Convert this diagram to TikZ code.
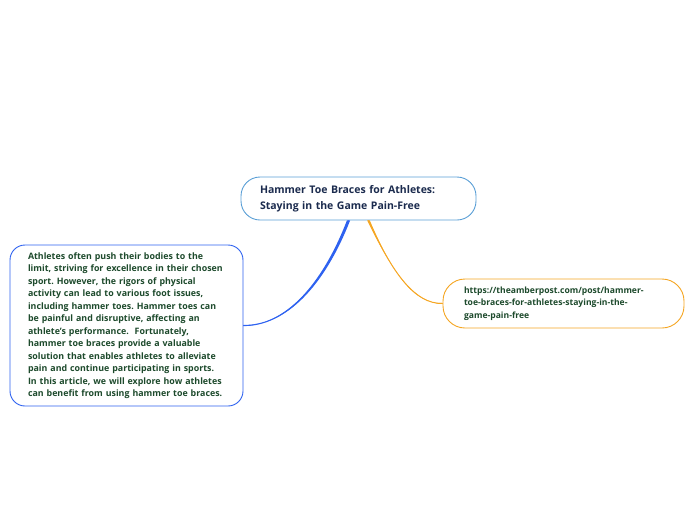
\documentclass[tikz,border=0pt]{standalone}
\usepackage{fontspec}
\setmainfont{Open Sans}
\frenchspacing
\definecolor{navy}{HTML}{1B2B4E}
\definecolor{dgreen}{HTML}{1D4A2C}
\definecolor{cblue}{HTML}{5A9FD6}
\definecolor{lblue}{HTML}{2E62F0}
\definecolor{orng}{HTML}{F5A623}
\begin{document}
\begin{tikzpicture}[x=1pt,y=-1pt,
  box/.style={draw,fill=white,line width=0.9pt,align=left,anchor=center,inner ysep=0pt},
  centraltext/.style={font=\fontsize{10.5}{15.5}\selectfont\bfseries,text=navy},
  lefttext/.style={font=\fontsize{8.85}{12.5}\selectfont\bfseries,text=dgreen},
  righttext/.style={font=\fontsize{8.6}{12.5}\selectfont\bfseries,text=dgreen}]
\useasboundingbox (0,0) rectangle (696,520);
\node[box,centraltext,draw=cblue,rounded corners=19pt,minimum width=235pt,minimum height=43pt,inner xsep=19pt,text width=197pt] (c) at (358.5,198.5)
  {Hammer Toe Braces for Athletes:\\Staying in the Game Pain-Free};
\node[box,lefttext,draw=lblue,rounded corners=15pt,minimum width=233pt,minimum height=161pt,inner xsep=18pt,text width=197pt] (l) at (126.5,325.5)
  {Athletes often push their bodies to the\\limit, striving for excellence in their chosen\\sport. However, the rigors of physical\\activity can lead to various foot issues,\\including hammer toes. Hammer toes can\\be painful and disruptive, affecting an\\athlete's performance.\ \ Fortunately,\\hammer toe braces provide a valuable\\solution that enables athletes to alleviate\\pain and continue participating in sports.\\In this article, we will explore how athletes\\can benefit from using hammer toe braces.};
\node[box,righttext,draw=orng,rounded corners=22pt,minimum width=241pt,minimum height=49pt,inner xsep=21pt,text width=199pt] (r) at (563.5,303.5)
  {https://theamberpost.com/post/hammer-\\toe-braces-for-athletes-staying-in-the-\\game-pain-free};
\coordinate (cb) at ([xshift=-10pt]c.south);
\coordinate (co) at ([xshift=10pt]c.south);
\draw[lblue,line width=1.1pt] (cb) .. controls (323,285.5) and (285.5,326) .. (l.east);
\fill[lblue] ([xshift=-1.6pt]cb) .. controls (322,285) and (285,325.4) .. ([yshift=-0.5pt]l.east)
  -- ([yshift=0.5pt]l.east) .. controls (286,326.6) and (324.5,286) .. ([xshift=1.6pt]cb) -- cycle;
\draw[orng,line width=1pt] (co) .. controls (392.2,272.7) and (414.5,304) .. (r.west);
\fill[orng] ([xshift=-1.3pt]co) .. controls (392,272) and (415,303.4) .. ([yshift=-0.5pt]r.west)
  -- ([yshift=0.5pt]r.west) .. controls (414,304.6) and (392.5,273.5) .. ([xshift=1.3pt]co) -- cycle;
\end{tikzpicture}
\end{document}
